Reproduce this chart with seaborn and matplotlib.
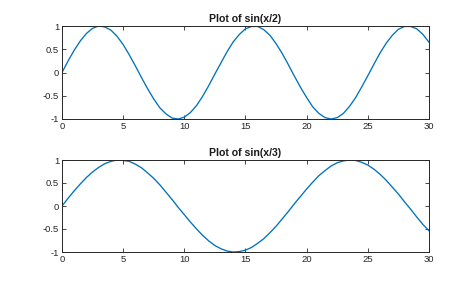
import matplotlib
matplotlib.use("Agg")
import matplotlib.pyplot as plt
import seaborn as sns
import pandas as pd

x_vals = [i * 0.5 for i in range(61)]

sin_half = [0.00, 0.25, 0.48, 0.68, 0.84, 0.95, 1.00, 0.98, 0.91, 0.78,
            0.60, 0.38, 0.14, -0.11, -0.35, -0.57, -0.76, -0.89, -0.98, -1.00,
            -0.96, -0.86, -0.71, -0.51, -0.28, -0.03, 0.21, 0.45, 0.66, 0.82,
            0.94, 0.99, 0.99, 0.92, 0.80, 0.62, 0.41, 0.17, -0.08, -0.32,
            -0.54, -0.74, -0.88, -0.97, -1.00, -0.97, -0.88, -0.73, -0.54, -0.31,
            -0.07, 0.18, 0.42, 0.63, 0.80, 0.93, 0.99, 0.99, 0.94, 0.82,
            0.65]

sin_third = [0.00, 0.17, 0.33, 0.48, 0.62, 0.74, 0.84, 0.92, 0.97, 1.00,
             0.99, 0.97, 0.91, 0.83, 0.72, 0.60, 0.46, 0.30, 0.14, -0.03,
             -0.19, -0.35, -0.50, -0.64, -0.76, -0.86, -0.93, -0.98, -1.00, -0.99,
             -0.96, -0.90, -0.81, -0.71, -0.58, -0.44, -0.28, -0.12, 0.05, 0.21,
             0.37, 0.52, 0.66, 0.77, 0.87, 0.94, 0.98, 1.00, 0.99, 0.95,
             0.89, 0.80, 0.69, 0.56, 0.41, 0.26, 0.09, -0.07, -0.24, -0.40,
             -0.54]

titles = ["Plot of sin(x/2)", "Plot of sin(x/3)"]
xticks = [0, 5, 10, 15, 20, 25, 30]
yticks = [-1, -0.5, 0, 0.5, 1]
ytick_labels = ["-1", "-0.5", "0", "0.5", "1"]

sns.set_style("white")
plt.rcParams['font.family'] = ['Liberation Sans', 'DejaVu Sans']

fig = plt.figure(figsize=(4.74, 2.85), dpi=100)
ax1 = fig.add_axes([62/474, 1 - 119/285, 367/474, 93/285])
ax2 = fig.add_axes([62/474, 1 - 252/285, 367/474, 92/285])

for ax, ys, title in zip([ax1, ax2], [sin_half, sin_third], titles):
    df = pd.DataFrame({"x": x_vals, "y": ys})
    sns.lineplot(data=df, x="x", y="y", ax=ax, color="#0072BD", linewidth=0.95)
    ax.set_xlim(0, 30)
    ax.set_ylim(-1, 1)
    ax.set_xticks(xticks)
    ax.set_xticklabels([str(t) for t in xticks])
    ax.set_yticks(yticks)
    ax.set_yticklabels(ytick_labels)
    ax.set_xlabel("")
    ax.set_ylabel("")
    ax.set_title(title, fontsize=7.6, fontweight="bold", color="#1a1a1a", pad=3)
    ax.tick_params(direction="in", length=3, width=0.6, colors="#262626",
                   labelsize=6.8, labelcolor="#262626", pad=2,
                   top=True, right=True, bottom=True, left=True)
    for s in ax.spines.values():
        s.set_visible(True)
        s.set_color("#262626")
        s.set_linewidth(0.7)

fig.savefig("out.png", dpi=100, facecolor="white")
